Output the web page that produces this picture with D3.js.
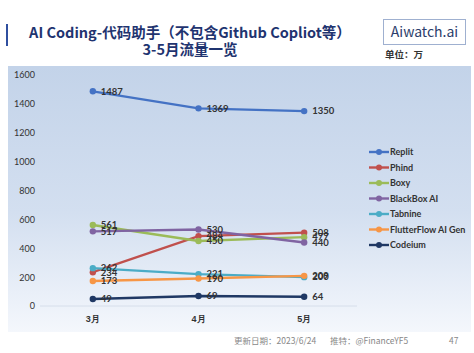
<!DOCTYPE html>
<html>
<head>
<meta charset="utf-8">
<script src="https://cdn.jsdelivr.net/npm/d3@7"></script>
<style>
  body { margin: 0; background: #fff; }
  svg { display: block; font-family: "Noto Sans CJK SC", "Noto Sans", sans-serif; }
</style>
</head>
<body>
<svg width="474" height="353"></svg>
<script>
var months = ["3月", "4月", "5月"];
var seriesNames = ["Replit", "Phind", "Boxy", "BlackBox AI", "Tabnine", "FlutterFlow AI Gen", "Codeium"];
var replit = [1487, 1369, 1350];
var phind = [234, 484, 508];
var boxy = [561, 450, 477];
var blackbox = [517, 530, 440];
var tabnine = [262, 221, 200];
var flutterflow = [173, 190, 209];
var codeium = [49, 69, 64];
var yTicks = [0, 200, 400, 600, 800, 1000, 1200, 1400, 1600];
var colors = ["#4472c4", "#c0504d", "#9bbb59", "#8064a2", "#4bacc6", "#f79646", "#1f3864"];

var allValues = [replit, phind, boxy, blackbox, tabnine, flutterflow, codeium];
var series = seriesNames.map(function (n, i) {
    return {name: n, values: allValues[i], color: colors[i]};
});

var svg = d3.select("svg");
var numFont = "Lato, 'Open Sans', sans-serif";

// background panel with gradient
var defs = svg.append("defs");
var grad = defs.append("linearGradient").attr("id", "bg").attr("x1", 0).attr("y1", 0).attr("x2", 0).attr("y2", 1);
grad.append("stop").attr("offset", "0%").attr("stop-color", "#c3d3e9");
grad.append("stop").attr("offset", "55%").attr("stop-color", "#d3dff0");
grad.append("stop").attr("offset", "100%").attr("stop-color", "#f4f7fc");
svg.append("rect").attr("x", 8).attr("y", 66).attr("width", 463).attr("height", 266).attr("fill", "url(#bg)");

// title area
svg.append("rect").attr("x", 6).attr("y", 24).attr("width", 2).attr("height", 22).attr("fill", "#2f4f9f");
svg.append("text").attr("x", 190).attr("y", 38).attr("text-anchor", "middle")
    .style("font-size", "14.5px").style("font-weight", "bold").style("fill", "#1f3470")
    .text("AI Coding-代码助手（不包含Github Copliot等）");
svg.append("text").attr("x", 190).attr("y", 55).attr("text-anchor", "middle")
    .style("font-size", "14.5px").style("font-weight", "bold").style("fill", "#1f3470")
    .text("3-5月流量一览");
svg.append("rect").attr("x", 383.5).attr("y", 19.5).attr("width", 82).attr("height", 25)
    .attr("fill", "#fff").attr("stroke", "#9fb0d0");
svg.append("text").attr("x", 424.5).attr("y", 37).attr("text-anchor", "middle")
    .style("font-size", "14px").style("fill", "#2b3d6b").text("Aiwatch.ai");
svg.append("text").attr("x", 385).attr("y", 58)
    .style("font-size", "9.5px").style("font-weight", "bold").style("fill", "#333").text("单位：万");

// chart
var x = d3.scaleBand().domain(months).range([40, 357]);
var y = d3.scaleLinear().domain([0, 1600]).range([306, 75]);

var g = svg.append("g");

g.append("line").attr("x1", 40).attr("x2", 357).attr("y1", y(0)).attr("y2", y(0))
    .attr("stroke", "#d6deea").attr("stroke-width", 1);

var yAxis = g.append("g").attr("transform", "translate(35,0)")
    .call(d3.axisLeft(y).tickValues(yTicks).tickFormat(d3.format("d")).tickSize(0).tickPadding(0));
yAxis.select(".domain").remove();
yAxis.selectAll("text").style("font-size", "9px").style("fill", "#333").style("font-family", numFont);

var xAxis = g.append("g").attr("transform", "translate(0," + 314 + ")")
    .call(d3.axisBottom(x).tickSize(0).tickPadding(0));
xAxis.select(".domain").remove();
xAxis.selectAll("text").style("font-size", "9px").style("font-weight", "bold").style("fill", "#333")
    .attr("dy", "0.9em");

var cx = function (i) { return x(months[i]) + x.bandwidth() / 2; };
var line = d3.line().x(function (d, i) { return cx(i); }).y(function (d) { return y(d); });

var sg = g.selectAll(".series").data(series).enter().append("g").attr("class", "series");
sg.append("path")
    .attr("d", function (d) { return line(d.values); })
    .attr("fill", "none")
    .attr("stroke", function (d) { return d.color; })
    .attr("stroke-width", 2.4);
sg.selectAll("circle").data(function (d) { return d.values.map(function (v) { return {v: v, c: d.color}; }); })
    .enter().append("circle")
    .attr("cx", function (d, i) { return cx(i); })
    .attr("cy", function (d) { return y(d.v); })
    .attr("r", 3.2)
    .attr("fill", function (d) { return d.c; });
sg.selectAll(".lbl").data(function (d) { return d.values; })
    .enter().append("text").attr("class", "lbl")
    .attr("x", function (d, i) { return cx(i) + 8; })
    .attr("y", function (d) { return y(d); })
    .attr("dy", "0.35em")
    .style("font-size", "9.5px").style("font-weight", "bold").style("fill", "#333")
    .style("font-family", numFont)
    .text(function (d) { return d; });

// legend
var lg = svg.append("g").selectAll("g").data(series).enter().append("g")
    .attr("transform", function (d, i) { return "translate(369," + (152 + i * 15.5) + ")"; });
lg.append("line").attr("x1", 0).attr("x2", 20).attr("stroke", function (d) { return d.color; }).attr("stroke-width", 2.4);
lg.append("circle").attr("cx", 10).attr("r", 3).attr("fill", function (d) { return d.color; });
lg.append("text").attr("x", 21).attr("dy", "0.35em")
    .style("font-size", "9px").style("font-weight", "bold").style("fill", "#333")
    .style("font-family", numFont)
    .text(function (d) { return d.name; });

// footer
svg.append("text").attr("x", 234).attr("y", 344).style("font-size", "8.5px").style("fill", "#888").text("更新日期：2023/6/24");
svg.append("text").attr("x", 330).attr("y", 344).style("font-size", "8.5px").style("fill", "#888").text("推特：@FinanceYF5");
svg.append("text").attr("x", 449).attr("y", 344).style("font-size", "8.5px").style("fill", "#888").text("47");
</script>
</body>
</html>
